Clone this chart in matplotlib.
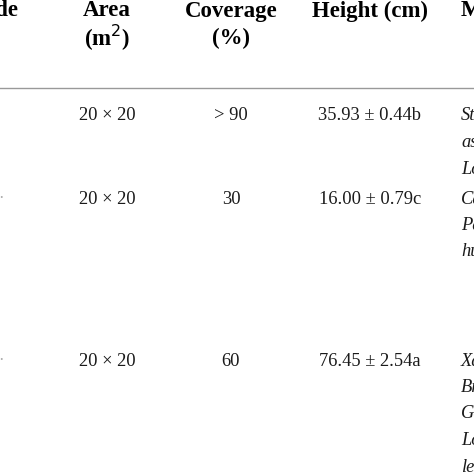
import matplotlib
matplotlib.use("Agg")
import matplotlib.pyplot as plt

headers = [("ide", 12), ("Area\n(m$^2$)", 107), ("Coverage\n(%)", 231), ("Height (cm)", 370), ("M", 470)]
areas = ["20 × 20", "20 × 20", "20 × 20"]
coverage = ["> 90", "30", "60"]
heights = ["35.93 ± 0.44b", "16.00 ± 0.79c", "76.45 ± 2.54a"]
species = [["Stipa", "aspera", "Lolium"], ["Carex", "Paspalum", "humilis"],
           ["Xanthium", "Bromus", "Galium", "Lolium", "leymus"]]
row_y = [116, 199, 361]

W = H = 474
fig = plt.figure(figsize=(4.74, 4.74), dpi=100)
fig.patch.set_facecolor("white")
fam = ["Liberation Serif", "DejaVu Serif"]

def T(x, y, s, **kw):
    fig.text(x / W, 1 - y / H, s, family=fam, **kw)

for s, x in headers:
    if s == "ide":
        T(-10, 11, "ide", fontsize=16.5, fontweight="bold", ha="left", va="center")
    elif s == "M":
        T(461, 11, "M", fontsize=16.5, fontweight="bold", ha="left", va="center")
    else:
        lines = s.split("\n")
        for i, l in enumerate(lines):
            T(x, 11 + 27 * i, l, fontsize=16.5, fontweight="bold", ha="center", va="center")

fig.add_artist(plt.Line2D([0, 1], [1 - 88 / H] * 2, color="#999999", lw=1, transform=fig.transFigure))

for i, y in enumerate(row_y):
    T(107, y, areas[i], fontsize=13.3, ha="center", va="center", color="#1a1a1a")
    T(231, y, coverage[i], fontsize=13.3, ha="center", va="center", color="#1a1a1a")
    T(370, y, heights[i], fontsize=13.3, ha="center", va="center", color="#1a1a1a")
    for j, sp in enumerate(species[i]):
        T(461, y + 26.5 * j, sp, fontsize=13.3, ha="left", va="center", style="italic", color="#1a1a1a")
    if i > 0:
        T(-2, y, "·", fontsize=12, ha="left", va="center", color="#aaaaaa")

fig.savefig("out.png", dpi=100)
